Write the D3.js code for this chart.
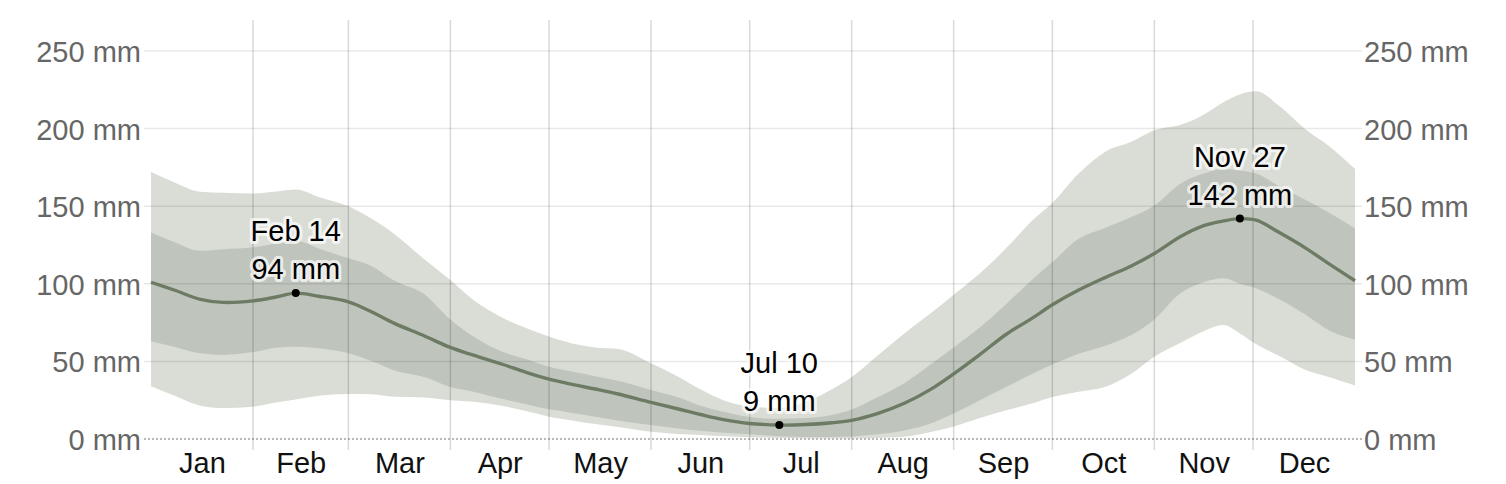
<!DOCTYPE html>
<html>
<head>
<meta charset="utf-8">
<script src="https://cdn.jsdelivr.net/npm/d3@7"></script>
<style>
  html, body { margin: 0; padding: 0; background: #fff; }
  svg { display: block; font-family: "Liberation Sans", Arial, sans-serif; }
</style>
</head>
<body>
<svg id="chart" width="1506" height="484"></svg>
<script>
// ---- data (day of year in a 366-day year, precipitation in mm) ----
const days = [0,7,15,22,31,38,44,51,60,67,74,83,91,98,107,114,121,128,135,142,152,160,167,174,182,191,199,207,213,221,229,237,244,252,260,268,274,282,290,298,305,313,320,326,331,336,343,351,358,366];
const p10 = [34,28,21.5,20,20.8,23.5,25.5,27.8,29,28.8,27.2,26.8,25,24,21.2,18,14.4,12,9.6,7.8,4.7,3.3,2.6,1.8,1.2,0.6,0.5,0.5,0.5,0.7,1.4,4.5,8,13.5,18.5,23,27,30.5,33.5,42,53,62,69.5,73.4,68,61,53.5,44.5,40,34.5];
const p25 = [63,59.5,55.2,54.2,56,58.8,59.5,58.4,55.2,50.2,44.2,40,33.5,30.5,25.7,22.4,19.1,16.8,14.4,12,9,6.8,5.3,4,3,1.8,1.3,1.3,1.6,3,5.5,10,16.5,25,33.5,42,48,55,60,67,77,94,101,103.5,100,97,90,80,70,64];
const p50 = [101,96,90,88,89,91.5,94,92,88.4,82,74.5,66.5,59,54,48,43,38.6,35.2,32.2,29,23.6,19.5,15.8,12.5,10,9,9.3,10.5,12,16.5,23,32,42,54.5,67.5,78,86.5,96,104,111.5,119.5,130.5,137.5,140.5,142,141,133,123,113,102];
const p75 = [133,127,121.3,122.3,123.5,126,127.7,122.8,116.4,111.5,102,93.5,77,66,56,51.5,46.6,43.5,40.5,37.5,31.6,27,21.5,17.5,14.2,13,13.5,15.5,19,27,36,48,59,72,87,103,114,129,136,143,150.5,164.7,171.1,174,173,171,162.8,154,146,135.7];
const p90 = [172,165.5,159.3,158.6,158.2,159.5,160.8,156,150,142,132,116,102.4,89.5,78,71.5,66,61.6,59,58,48.8,40.5,32,25,21,20,24,32,40,54,68,81,93,106.8,123,141,152,171,185,191.5,199,202.5,209,217,222,224,214.5,199.5,189,174];
const annotatedDays = [44, 191, 331];
const monthLabels = ["Jan","Feb","Mar","Apr","May","Jun","Jul","Aug","Sep","Oct","Nov","Dec"];
const yTicks = [0, 50, 100, 150, 200, 250];

// ---- setup ----
const svg = d3.select("#chart");
const year0 = Date.UTC(2024, 0, 1);
const dateOf = d => new Date(year0 + d * 864e5);
const x = d3.scaleUtc().domain([new Date(year0), new Date(Date.UTC(2025, 0, 1))]).range([151, 1355]);
const y = d3.scaleLinear().domain([0, 250]).range([439, 51]);

const rows = days.map((d, i) => ({ date: dateOf(d), p10: p10[i], p25: p25[i], p50: p50[i], p75: p75[i], p90: p90[i] }));
const curve = d3.curveMonotoneX;

// bands
svg.append("path")
  .datum(rows)
  .attr("fill", "#d9ddd6")
  .attr("d", d3.area().curve(curve).x(r => x(r.date)).y0(r => y(r.p10)).y1(r => y(r.p90)));
svg.append("path")
  .datum(rows)
  .attr("fill", "#bfc5bc")
  .attr("d", d3.area().curve(curve).x(r => x(r.date)).y0(r => y(r.p25)).y1(r => y(r.p75)));

// horizontal grid
svg.append("g").selectAll("line").data(yTicks.filter(t => t > 0)).join("line")
  .attr("x1", 144).attr("x2", 1362)
  .attr("y1", d => y(d)).attr("y2", d => y(d))
  .attr("stroke", "rgba(0,0,0,0.09)").attr("stroke-width", 1.5);
// zero dotted line
svg.append("line")
  .attr("x1", 144).attr("x2", 1362).attr("y1", y(0)).attr("y2", y(0))
  .attr("stroke", "#777").attr("stroke-width", 1).attr("stroke-dasharray", "2,2");

// vertical month grid
const monthStarts = d3.utcMonth.range(new Date(year0), new Date(Date.UTC(2025, 0, 1)));
svg.append("g").selectAll("line").data(monthStarts.slice(1)).join("line")
  .attr("x1", d => x(d)).attr("x2", d => x(d))
  .attr("y1", 20).attr("y2", 450)
  .attr("stroke", "rgba(0,0,0,0.15)").attr("stroke-width", 1.5);

// median line
svg.append("path")
  .datum(rows)
  .attr("fill", "none")
  .attr("stroke", "#6d7b65")
  .attr("stroke-width", 3.4)
  .attr("stroke-linejoin", "round")
  .attr("d", d3.line().curve(d3.curveCatmullRom.alpha(0.5)).x(r => x(r.date)).y(r => y(r.p50)));

// y axis labels (left & right)
const fmtMM = d => d + " mm";
const axL = svg.append("g").attr("transform", "translate(141,0)")
  .call(d3.axisLeft(y).tickValues(yTicks).tickFormat(fmtMM).tickSize(0).tickPadding(0));
const axR = svg.append("g").attr("transform", "translate(1364,0)")
  .call(d3.axisRight(y).tickValues(yTicks).tickFormat(fmtMM).tickSize(0).tickPadding(0));
[axL, axR].forEach(a => {
  a.select(".domain").remove();
  a.selectAll("text").attr("font-size", 29).attr("fill", "#666")
    .attr("font-family", "'Liberation Sans', Arial, sans-serif").attr("dy", "0.36em");
});

// month labels at mid-month
const mids = monthStarts.map(m => new Date((+m + +d3.utcMonth.offset(m, 1)) / 2));
const axB = svg.append("g").attr("transform", "translate(0,440)")
  .call(d3.axisBottom(x).tickValues(mids).tickFormat((d, i) => monthLabels[i]).tickSize(0).tickPadding(0));
axB.select(".domain").remove();
axB.selectAll("text").attr("font-size", 29).attr("fill", "#111")
  .attr("font-family", "'Liberation Sans', Arial, sans-serif").attr("dy", "1.13em");

// annotations
const fmtDate = d3.utcFormat("%b %-d");
const ann = annotatedDays.map(d => {
  const i = days.indexOf(d);
  return { date: dateOf(d), v: p50[i] };
});
const ag = svg.append("g");
ann.forEach(a => {
  const cx = x(a.date), cy = y(a.v);
  ag.append("circle").attr("cx", cx).attr("cy", cy).attr("r", 4).attr("fill", "#000");
  const t = ag.append("text")
    .attr("x", cx).attr("text-anchor", "middle")
    .attr("font-size", 29).attr("fill", "#000")
    .attr("stroke", "rgba(255,255,255,0.7)").attr("stroke-width", 6)
    .attr("stroke-linejoin", "round").attr("paint-order", "stroke");
  t.append("tspan").attr("x", cx).attr("y", cy - 52).text(fmtDate(a.date));
  t.append("tspan").attr("x", cx).attr("y", cy - 14).text(Math.round(a.v) + " mm");
});
</script>
</body>
</html>
